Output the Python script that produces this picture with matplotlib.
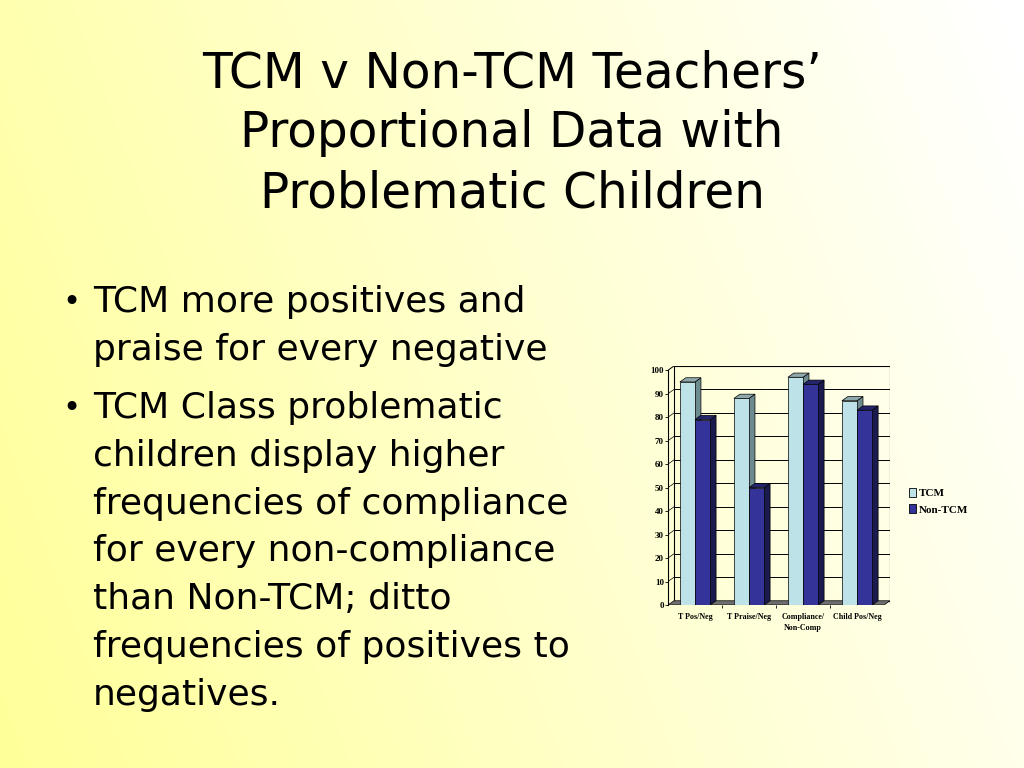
import numpy as np
import matplotlib.pyplot as plt
from matplotlib.patches import Polygon, Rectangle

categories = ["T Pos/Neg", "T Praise/Neg", "Compliance/\nNon-Comp", "Child Pos/Neg"]
tcm = [95, 88, 97, 87]
non_tcm = [79, 50, 94, 83]
series_names = ["TCM", "Non-TCM"]
yticks = list(range(0, 101, 10))

title_lines = ["TCM v Non-TCM Teachers\u2019", "Proportional Data with", "Problematic Children"]
bullet1 = ["TCM more positives and", "praise for every negative"]
bullet2 = ["TCM Class problematic", "children display higher", "frequencies of compliance",
           "for every non-compliance", "than Non-TCM; ditto",
           "frequencies of positives to", "negatives."]

W, H = 1024, 768
fig = plt.figure(figsize=(W / 100, H / 100), dpi=100)

# slide background: yellow on the left fading to white top-right
bg = fig.add_axes([0, 0, 1, 1])
xx, yy = np.meshgrid(np.linspace(0, 1, 256), np.linspace(0, 1, 192))
t = np.clip(0.8 * xx + 0.22 * (1 - yy), 0, 1)  # row 0 is the top
yellow = np.array([1.0, 1.0, 0.60])
white = np.array([1.0, 1.0, 1.0])
img = yellow[None, None, :] * (1 - t[..., None]) + white[None, None, :] * t[..., None]
bg.imshow(img, aspect="auto", extent=[0, 1, 0, 1], origin="upper")
bg.axis("off")

font = "DejaVu Sans"
for k, line in enumerate(title_lines):
    fig.text(512 / W, 1 - (73 + 60 * k) / H, line, ha="center", va="center",
             fontsize=35, family=font)

def put_bullet(lines, y_first):
    fig.text(62 / W, 1 - y_first / H, "\u2022", ha="left", va="center", fontsize=22, family=font)
    for k, line in enumerate(lines):
        fig.text(93 / W, 1 - (y_first + 47.8 * k) / H, line, ha="left", va="center",
                 fontsize=26, family=font)

put_bullet(bullet1, 302)
put_bullet(bullet2, 408)

# chart
left, right, bottom, top = 668, 890, 605, 366
ax = fig.add_axes([left / W, 1 - bottom / H, (right - left) / W, (bottom - top) / H])
ax.patch.set_alpha(0)
ddx, ddy = 0.11, 1.8
x0, x1 = -0.5, 3.5
ax.set_xlim(x0, x1 + ddx)
ax.set_ylim(0, 100 + ddy)

# back wall + grid
ax.add_patch(Rectangle((x0 + ddx, ddy), x1 - x0, 100, facecolor="none",
                       edgecolor="black", lw=0.8, zorder=1))
for v in yticks[1:-1]:
    ax.plot([x0 + ddx, x1 + ddx], [v + ddy, v + ddy], color="black", lw=0.7, zorder=1)
    ax.plot([x0, x0 + ddx], [v, v + ddy], color="black", lw=0.5, zorder=1)
ax.plot([x0, x0 + ddx], [100, 100 + ddy], color="black", lw=0.7, zorder=1)
# floor
ax.add_patch(Polygon([(x0, 0), (x1, 0), (x1 + ddx, ddy), (x0 + ddx, ddy)],
                     closed=True, facecolor="#6E6E6E", edgecolor="black", lw=0.5, zorder=2))

w = 0.28
colors = {
    "TCM": ("#BDE2E8", "#8FA8AC", "#6E8C90"),
    "Non-TCM": ("#333399", "#25256E", "#1A1A4D"),
}
for si, (name, vals) in enumerate(zip(series_names, [tcm, non_tcm])):
    front, topc, side = colors[name]
    for i, v in enumerate(vals):
        bx0 = i - w + si * w
        bx1 = bx0 + w
        z = 3 + i * 2 + si
        ax.add_patch(Polygon([(bx1, 0), (bx1, v), (bx1 + ddx, v + ddy), (bx1 + ddx, ddy)],
                             closed=True, facecolor=side, edgecolor="black", lw=0.5, zorder=z))
        ax.add_patch(Polygon([(bx0, v), (bx1, v), (bx1 + ddx, v + ddy), (bx0 + ddx, v + ddy)],
                             closed=True, facecolor=topc, edgecolor="black", lw=0.5, zorder=z))
        ax.bar(bx0, v, width=w, align="edge", color=front, edgecolor="black", lw=0.5, zorder=z)

for s in ["top", "right", "bottom"]:
    ax.spines[s].set_visible(False)
ax.spines["left"].set_bounds(0, 100)
ax.spines["left"].set_linewidth(0.8)
ax.spines["left"].set_zorder(20)
ax.set_yticks(yticks)
ax.set_yticklabels([str(v) for v in yticks], fontsize=6.5, family="Liberation Serif",
                   fontweight="bold")
ax.tick_params(axis="y", length=2, width=0.6, pad=1)
ax.set_xticks(range(len(categories)))
ax.set_xticklabels(categories, fontsize=5.8, family="Liberation Serif", fontweight="bold",
                   linespacing=1.4, va="top")
ax.tick_params(axis="x", which="major", length=0, pad=6)
ax.set_xticks([i + 0.5 for i in range(len(categories) - 1)], minor=True)
ax.tick_params(axis="x", which="minor", length=2, width=0.6)

handles = [Rectangle((0, 0), 1, 1, facecolor=colors[n][0], edgecolor="black", lw=0.6)
           for n in series_names]
leg = fig.legend(handles, series_names, loc="upper left",
                 bbox_to_anchor=(903 / W, 1 - 482 / H), frameon=False,
                 prop={"family": "Liberation Serif", "weight": "bold", "size": 8},
                 handlelength=0.7, handleheight=0.9, handletextpad=0.2, labelspacing=0.55,
                 borderpad=0)

fig.savefig("out.png", dpi=100)
